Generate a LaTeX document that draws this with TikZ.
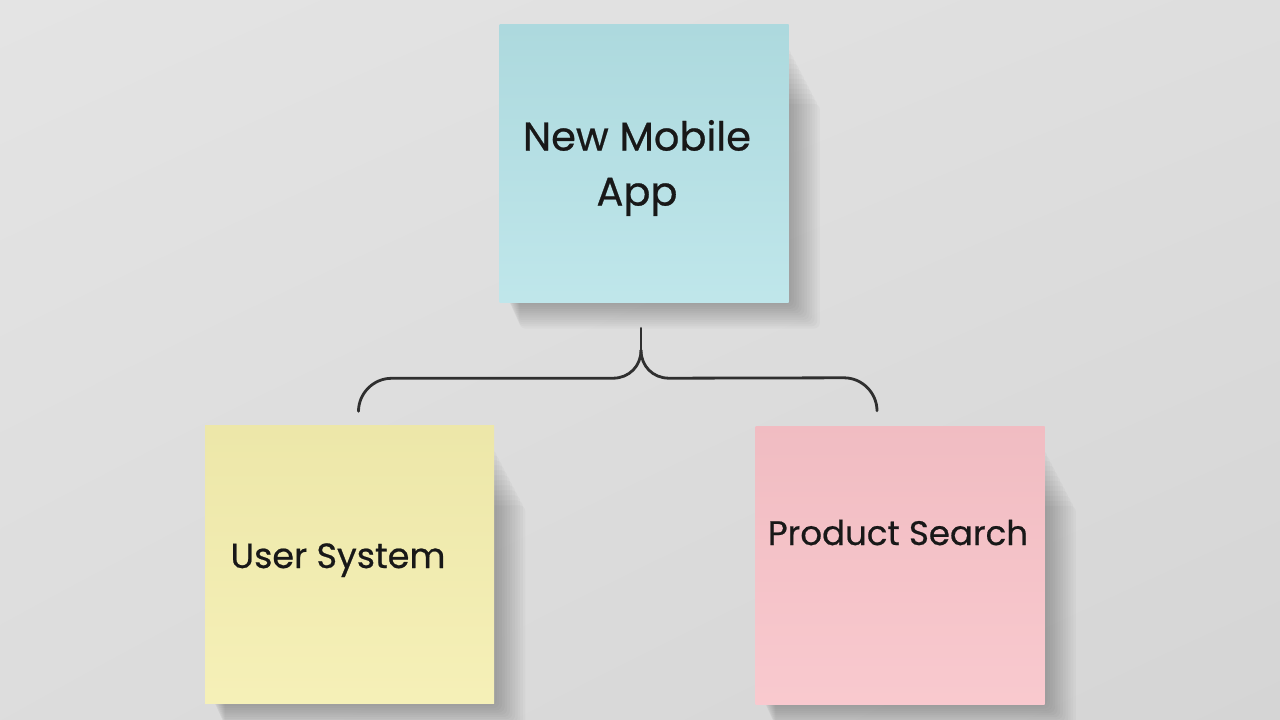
\documentclass[tikz,border=0pt]{standalone}
\usepackage{fontspec}
\setmainfont{Poppins}
\newfontfamily\notefont{Poppins}[FakeBold=0.6]
\usetikzlibrary{positioning, calc, backgrounds, shadings}
\definecolor{wallhi}{HTML}{E4E4E4}
\definecolor{walllo}{HTML}{D5D5D5}
\definecolor{notecyan}{HTML}{B4E2E7}
\definecolor{noteyellow}{HTML}{F4EEAE}
\definecolor{notepink}{HTML}{F8C2C8}
\definecolor{inkdark}{HTML}{181818}

\begin{document}
\begin{tikzpicture}[x=1pt, y=-1pt,
    note/.style={minimum width=289pt, minimum height=278pt, inner sep=0pt},
    notetext/.style={text=inkdark, align=center, inner sep=0pt},
    brace/.style={line width=2.8pt, draw=inkdark!90, line cap=round}]
    \useasboundingbox (0,0) rectangle (1280,720);

    % the three sticky notes
    \node[note, top color=notecyan!96!black, bottom color=notecyan!85!white] (app) at (644,163) {};
    \node[note, top color=noteyellow!97!black, bottom color=noteyellow!88!white] (users) at (349.5,564.5) {};
    \node[note, top color=notepink!97!black, bottom color=notepink!88!white] (search) at (900,565) {};

    \node[notetext, font=\notefont\fontsize{40}{55}\selectfont] (apptext) at (637,168) {New Mobile\\App};
    \node[notetext, font=\notefont\fontsize{35}{42}\selectfont, anchor=base] (userstext) at (338,568) {User System};
    \node[notetext, font=\notefont\fontsize{34}{42}\selectfont, anchor=base] (searchtext) at (898,545) {Product Search};

    % wall and soft shadows behind the notes
    \begin{scope}[on background layer]
        \shade[upper left=wallhi, upper right=wallhi!60!walllo, lower left=wallhi!50!walllo, lower right=walllo]
            (0,0) rectangle (1280,720);
        \foreach \n in {app,users,search} {
            \foreach \k in {1,...,12} {
                \fill[black, opacity=0.022, rounded corners=6pt]
                    ($(\n.north west)+(8+\k,20+\k*5)$) rectangle ($(\n.south east)+(\k*2.6,\k*2.2)$);
            }
        }
    \end{scope}

    % the brace joining the notes
    \coordinate (fork) at ($(app.south)+(-3,26)$);
    \coordinate (split) at ($(fork)+(0,22)$);
    \coordinate (lmid) at ($(split)+(-28,28)$);
    \coordinate (rmid) at ($(split)+(28,28)$);
    \coordinate (leftend) at ($(users.north)+(9,-14)$);
    \coordinate (rightend) at ($(search.north)+(-23,-15)$);
    \coordinate (lcorner) at ($(leftend)+(33,-33)$);
    \coordinate (rcorner) at ($(rightend)+(-33,-33)$);

    \draw[brace] (fork) -- (split);
    \draw[brace] (split) .. controls ($(split)+(0,16)$) and ($(lmid)+(16,0)$) .. (lmid)
        -- (lcorner) .. controls ($(lcorner)+(-18,0)$) and ($(leftend)+(0,-18)$) .. (leftend);
    \draw[brace] (split) .. controls ($(split)+(0,16)$) and ($(rmid)+(-16,0)$) .. (rmid)
        -- (rcorner) .. controls ($(rcorner)+(18,0)$) and ($(rightend)+(0,-18)$) .. (rightend);
\end{tikzpicture}
\end{document}
